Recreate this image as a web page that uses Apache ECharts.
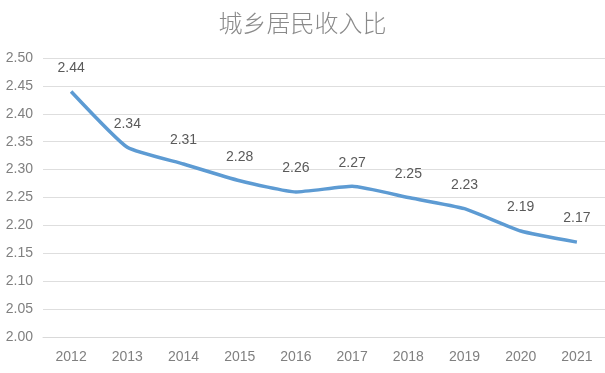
<!DOCTYPE html>
<html>
<head>
<meta charset="utf-8">
<script src="https://cdn.jsdelivr.net/npm/echarts@6/dist/echarts.min.js"></script>
<style>
html,body{margin:0;padding:0;background:#fff;}
#chart{width:605px;height:373px;}
</style>
</head>
<body>
<div id="chart"></div>
<script>
var chartTitle = '城乡居民收入比';
var years = ['2012','2013','2014','2015','2016','2017','2018','2019','2020','2021'];
var ratio = [2.44, 2.34, 2.31, 2.28, 2.26, 2.27, 2.25, 2.23, 2.19, 2.17];
var yMin = 2.00, yMax = 2.50, yStep = 0.05;

var chart = echarts.init(document.getElementById('chart'));
chart.setOption({
  backgroundColor: '#ffffff',
  animation: false,
  title: {
    text: chartTitle,
    left: 'center',
    top: 6,
    textStyle: {
      fontFamily: 'Noto Sans CJK SC',
      fontSize: 24,
      fontWeight: 300,
      color: '#8a8a8a'
    }
  },
  grid: { left: 43, top: 58, width: 571, height: 279, containLabel: false },
  xAxis: {
    type: 'category',
    data: years,
    boundaryGap: true,
    axisLine: { show: true, lineStyle: { color: '#d9d9d9', width: 1 } },
    axisTick: { show: false },
    axisLabel: { margin: 13, fontSize: 14, color: '#808080', fontFamily: 'Liberation Sans' }
  },
  yAxis: {
    type: 'value',
    min: yMin,
    max: yMax,
    interval: yStep,
    axisLine: { show: false },
    axisTick: { show: false },
    axisLabel: {
      margin: 10,
      fontSize: 14,
      color: '#808080',
      fontFamily: 'Liberation Sans',
      formatter: function (v) { return v.toFixed(2); }
    },
    splitLine: { lineStyle: { color: '#dedede', width: 1 } }
  },
  series: [{
    type: 'line',
    data: ratio,
    smooth: 0.15,
    showSymbol: true,
    symbol: 'circle',
    symbolSize: 1,
    itemStyle: { color: 'rgba(93,155,211,0)', borderWidth: 0 },
    lineStyle: { color: '#5d9bd3', width: 3.5 },
    label: {
      show: true,
      position: 'top',
      distance: 16,
      fontSize: 14,
      color: '#5a5a5a',
      fontFamily: 'Liberation Sans',
      formatter: function (p) { return Number(p.value).toFixed(2); }
    }
  }]
});
</script>
</body>
</html>
